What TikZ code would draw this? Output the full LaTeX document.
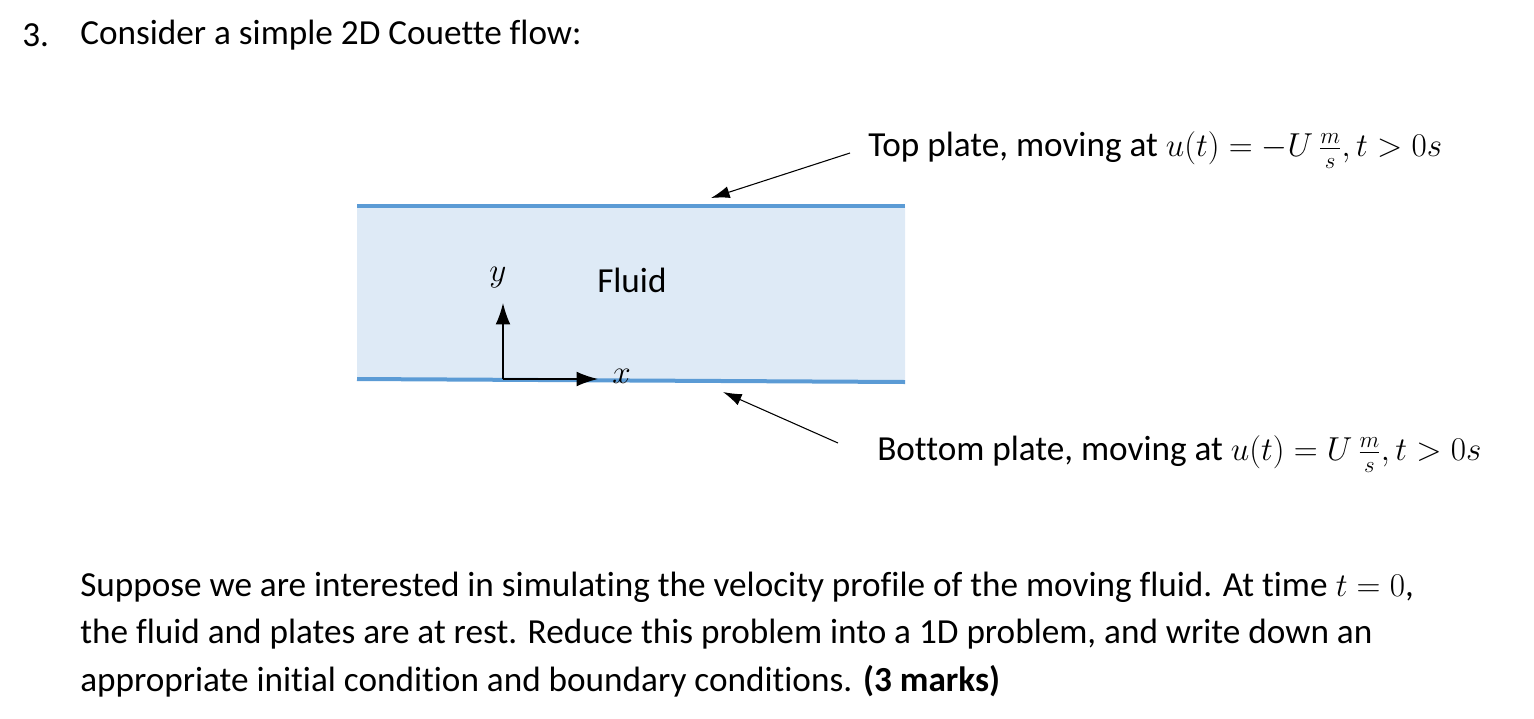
\documentclass[tikz,border=0pt]{standalone}
\usepackage{amsmath}
\usepackage{fontspec}
\setmainfont[Ligatures={NoCommon}]{Carlito}
\usetikzlibrary{arrows.meta}
\begin{document}
\begin{tikzpicture}[x=0.75pt,y=-0.75pt,
  txt/.style={anchor=west,inner sep=0pt,font=\fontsize{26.4}{30}\selectfont},
  plate/.style={draw={rgb,255:red,91;green,155;blue,213},line width=3pt},
  pointer/.style={-{Latex[length=14pt,width=9pt]},line width=0.8pt}]
\useasboundingbox (0,0) rectangle (1534,718);
\fill[fill={rgb,255:red,222;green,234;blue,246}] (357,206) -- (905,206) -- (905,381) -- (357,379) -- cycle;
\draw[plate] (357,206) coordinate (tl) -- (905,206) coordinate (tr);
\draw[plate] (357,379) coordinate (bl) -- (905,382) coordinate (br);
\node[txt] (num) at (22,35) {3.};
\node[txt] (q) at (80,35) {Consider a simple 2D Couette flow:};
\coordinate (o) at (503,379);
\coordinate (ya) at (503,303);
\coordinate (xa) at (598,379);
\draw[-{Latex[length=16pt,width=11pt]},line width=1pt] (o) -- (ya);
\draw[-{Latex[length=16pt,width=11pt]},line width=1pt] (o) -- (xa);
\node[txt] (yl) at (489,278) {$y$};
\node[txt] (xl) at (612,376) {$x$};
\node[txt] (fl) at (597,280) {Fluid};
\node[txt] (top) at (868,150) {Top plate, moving at $u(t)=-U\,\frac{m}{s},t>0s$};
\node[txt] (bot) at (877,454) {Bottom plate, moving at $u(t)=U\,\frac{m}{s},t>0s$};
\coordinate (ta) at (850,153);
\coordinate (te) at (711,198);
\coordinate (ba) at (838,443);
\coordinate (be) at (723,392);
\draw[pointer] (ta) -- (te);
\draw[pointer] (ba) -- (be);
\node[txt] (p1) at (80,587) {Suppose we are interested in simulating the velocity profile of the moving fluid. At time $t=0$,};
\node[txt] (p2) at (80,634) {the fluid and plates are at rest. Reduce this problem into a 1D problem, and write down an};
\node[txt] (p3) at (80,681) {appropriate initial condition and boundary conditions. \textbf{(3 marks)}};
\end{tikzpicture}
\end{document}
